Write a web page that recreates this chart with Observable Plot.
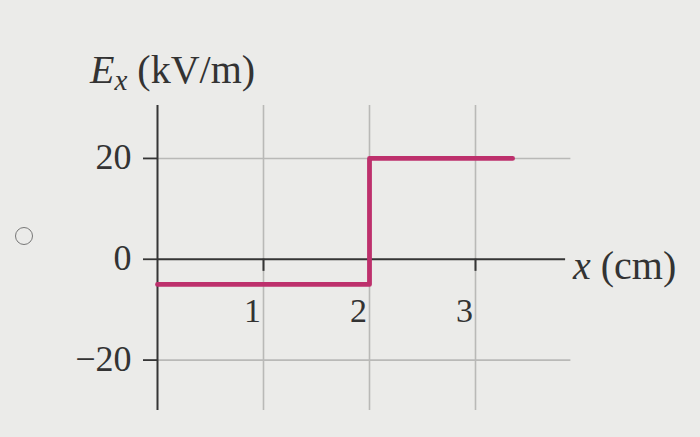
<!DOCTYPE html>
<html>
<head>
<meta charset="utf-8">
<script src="https://cdn.jsdelivr.net/npm/d3@7"></script>
<script src="https://cdn.jsdelivr.net/npm/@observablehq/plot@0.6"></script>
<style>
  html, body { margin: 0; padding: 0; background: #ebebe9; }
  #wrap { position: relative; width: 700px; height: 437px; overflow: hidden; }
  #radio { position: absolute; left: 15px; top: 227px; width: 16px; height: 16px;
           border: 1.5px solid #777; border-radius: 50%; }
</style>
</head>
<body>
<div id="wrap"><div id="radio"></div></div>
<script>
// Data
const xBreaks = [0, 2, 3.35];        // x (cm) where Ex value starts/ends
const exValues = [-5, 20, 20];        // Ex (kV/m), step-after
const xTicks = [1, 2, 3];
const yTicks = [-20, 0, 20];
const yTickLabels = ["\u221220", "0", "20"];
const xTickLabels = ["1", "2", "3"];

const serif = "'Liberation Serif', 'DejaVu Serif', serif";
const gridColor = "#b9b9b7";
const axisColor = "#353535";
const lineColor = "#bd306c";

const stepData = xBreaks.map((x, i) => ({x, e: exValues[i]}));

const chart = Plot.plot({
  width: 700,
  height: 437,
  marginLeft: 157,
  marginRight: 119,
  marginTop: 105,
  marginBottom: 27,
  style: {background: "transparent", fontFamily: serif},
  x: {domain: [0, 4], axis: null},
  y: {domain: [-30, 30.5], axis: null},
  marks: [
    // vertical grid lines
    Plot.ruleX(xTicks, {y1: -30, y2: 30.5, stroke: gridColor, strokeWidth: 1.6}),
    // horizontal grid lines
    Plot.ruleY(yTicks.filter(d => d !== 0), {x1: 0, x2: 3.9, stroke: gridColor, strokeWidth: 1.6}),
    // y tick marks (to the left of the axis)
    Plot.ruleY(yTicks, {x1: 0, x2: 0, stroke: axisColor, strokeWidth: 1.8,
      render: (index, scales, values, dims, context, next) => {
        const g = next(index, scales, values, dims, context);
        d3.select(g).selectAll("line").attr("x1", function () { return +this.getAttribute("x2") - 14; });
        return g;
      }}),
    // y-axis line
    Plot.ruleX([0], {y1: -30, y2: 30.5, stroke: axisColor, strokeWidth: 2}),
    // x-axis line
    Plot.ruleY([0], {x1: 0, x2: 3.85, stroke: axisColor, strokeWidth: 2}),
    // x tick marks (downward from axis)
    Plot.ruleX(xTicks, {y1: 0, y2: -2.4, stroke: axisColor, strokeWidth: 2}),
    // x tick labels
    Plot.text(xTicks, {x: d => d, y: 0, text: (d, i) => xTickLabels[i], dx: -11, dy: 52,
      fontSize: 34, fill: "#333", fontFamily: serif}),
    // y tick labels
    Plot.text(yTicks, {x: 0, y: d => d, text: (d, i) => yTickLabels[i], dx: -26, dy: -1,
      textAnchor: "end", fontSize: 36, fill: "#333", fontFamily: serif}),
    // data step line
    Plot.line(stepData, {x: "x", y: "e", curve: "step-after", stroke: lineColor, strokeWidth: 4.8})
  ]
});

const svg = d3.select(chart);

// axis titles
const yt = svg.append("text")
  .attr("x", 90).attr("y", 83).attr("text-anchor", "start")
  .attr("font-family", serif).attr("font-size", 40).attr("fill", "#333");
yt.append("tspan").attr("font-style", "italic").text("E");
yt.append("tspan").attr("font-style", "italic").attr("font-size", 29).attr("dy", 7).text("x");
yt.append("tspan").attr("dy", -7).text(" (kV/m)");

const xt = svg.append("text")
  .attr("x", 573).attr("y", 279).attr("text-anchor", "start")
  .attr("font-family", serif).attr("font-size", 40).attr("fill", "#333");
xt.append("tspan").attr("font-style", "italic").text("x");
xt.append("tspan").text(" (cm)");

document.getElementById("wrap").appendChild(chart);
chart.style.position = "absolute";
chart.style.left = "0";
chart.style.top = "0";
</script>
</body>
</html>
